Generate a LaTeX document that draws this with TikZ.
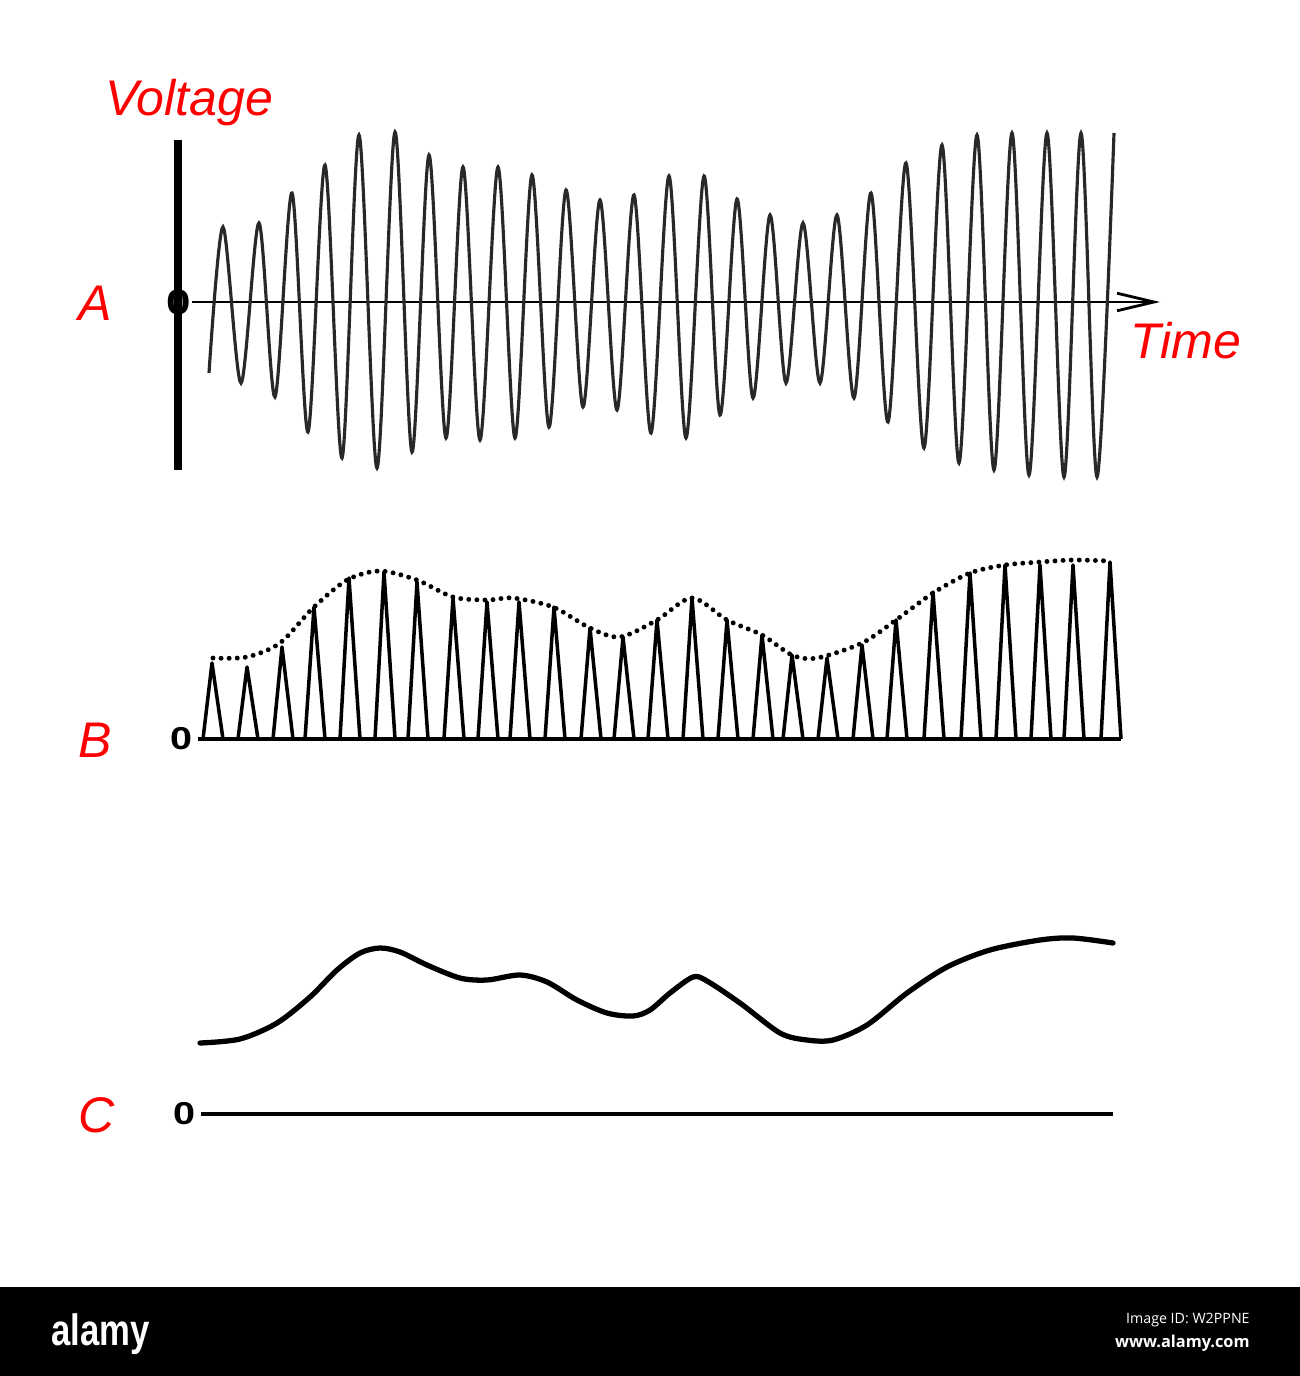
\documentclass[tikz,border=0pt]{standalone}
\usepackage{fontspec}
\usepackage{graphicx}
\usetikzlibrary{arrows.meta}
\newfontfamily\labelfont{Liberation Sans}
\newfontfamily\stockfont{Open Sans}
\definecolor{pencil}{RGB}{40,40,40}
\definecolor{labelred}{RGB}{255,0,0}
\newcommand{\zeromark}{\scalebox{1.25}[1]{0}}
\begin{document}
\begin{tikzpicture}[x=0.02cm, y=-0.02cm,
    wave/.style={draw=pencil, line width=1.8pt},
    axis/.style={line width=1.6pt},
    bar/.style={line width=5pt},
    spike/.style={line width=2pt, line join=round},
    envelope/.style={line width=2.8pt, line cap=round, dash pattern=on 0pt off 4.6pt},
    zeroline/.style={line width=2.4pt},
    detected/.style={line width=3pt, line cap=round},
    label/.style={text=labelred, font=\labelfont\itshape\fontsize{28.5}{30}\selectfont, inner sep=0pt, anchor=base west},
    zero/.style={font=\labelfont\bfseries\fontsize{18}{18}\selectfont, inner sep=0pt}]
  \useasboundingbox (0,0) rectangle (1300,1376);
  \node[label] (voltage) at (105,115) {Voltage};
  \node[label] (labelA) at (78,320) {A};
  \node[label] (time) at (1130,358) {Time};
  \node[label] (labelB) at (78,757) {B};
  \node[label] (labelC) at (78,1132) {C};
  \draw[bar] (178,140) -- (178,470);
  \node[zero, font=\labelfont\bfseries\fontsize{20}{20}\selectfont] (zeroA) at (179,302) {\zeromark};
  \node[zero] (zeroB) at (181,739) {\zeromark};
  \node[zero] (zeroC) at (184,1114) {\zeromark};
  \draw[axis, -{Straight Barb[length=21pt, width=10pt]}] (zeroA.east) -- (1160,302);
  \draw[wave] plot[smooth] coordinates {
    (209,373) (223,227) (241,383) (259,223) (275,397) (292,193) (308,432)
    (325,165) (342,458) (359,135) (377,468) (395,132) (412,452) (429,155)
    (446,438) (463,167) (480,440) (498,167) (515,438) (532,175) (549,427)
    (566,190) (583,407) (600,200) (617,410) (634,195) (651,433) (669,176)
    (686,438) (704,176) (720,415) (737,199) (753,398) (770,215) (786,383)
    (803,223) (820,383) (837,215) (854,398) (871,193) (888,422) (906,163)
    (924,448) (942,145) (959,463) (977,135) (994,470) (1012,133) (1029,475)
    (1047,133) (1064,477) (1081,133) (1097,477) (1114,133)};
  \foreach \x/\y in {212/663, 247/667, 282/647, 314/607, 349/578, 384/572,
      417/582, 453/598, 487/602, 519/602, 554/607, 590/628, 623/637, 657/620,
      692/598, 727/620, 762/635, 792/655, 827/658, 862/645, 896/620, 933/592,
      970/573, 1005/565, 1040/565, 1073/565, 1110/562}
    \draw[spike] (\x-9,739) -- (\x,\y) -- (\x+11,739);
  \draw[envelope] plot[smooth] coordinates {
    (213,658) (247,657) (280,643) (313,608) (347,580) (380,571) (417,580)
    (453,597) (487,600) (513,598) (553,607) (590,628) (620,637) (657,620)
    (692,598) (727,620) (762,635) (792,655) (817,658) (862,643) (896,620)
    (933,593) (970,573) (1005,565) (1040,562) (1073,560) (1110,561)};
  \draw[zeroline, shorten <=3pt] (zeroB.east) -- (1121,739);
  \draw[detected] plot[smooth] coordinates {
    (200,1043) (240,1039) (277,1023) (310,997) (337,970) (360,953) (380,948)
    (400,952) (427,965) (460,978) (487,980) (520,975) (547,982) (577,1000)
    (607,1013) (633,1016) (650,1010) (670,993) (693,977) (707,981) (740,1003)
    (780,1033) (807,1040) (833,1040) (867,1025) (907,993) (947,967) (990,950)
    (1040,940) (1073,938) (1113,943)};
  \draw[zeroline, line width=2.8pt, shorten <=3pt] (zeroC.east) -- (1113,1114);
  \fill[black] (0,1287) rectangle (1300,1376);
  \node[anchor=base west, inner sep=0pt, text=white] (alamy) at (51,1345)
    {\scalebox{0.79}[1]{\labelfont\bfseries\fontsize{25}{26}\selectfont alamy}};
  \node[anchor=base east, inner sep=0pt, text=white] (imageid) at (1250,1323)
    {\stockfont\fontsize{8.1}{9}\selectfont Image ID: W2PPNE};
  \node[anchor=base east, inner sep=0pt, text=white] (website) at (1250,1347)
    {\stockfont\bfseries\fontsize{9.3}{10}\selectfont www.alamy.com};
\end{tikzpicture}
\end{document}
